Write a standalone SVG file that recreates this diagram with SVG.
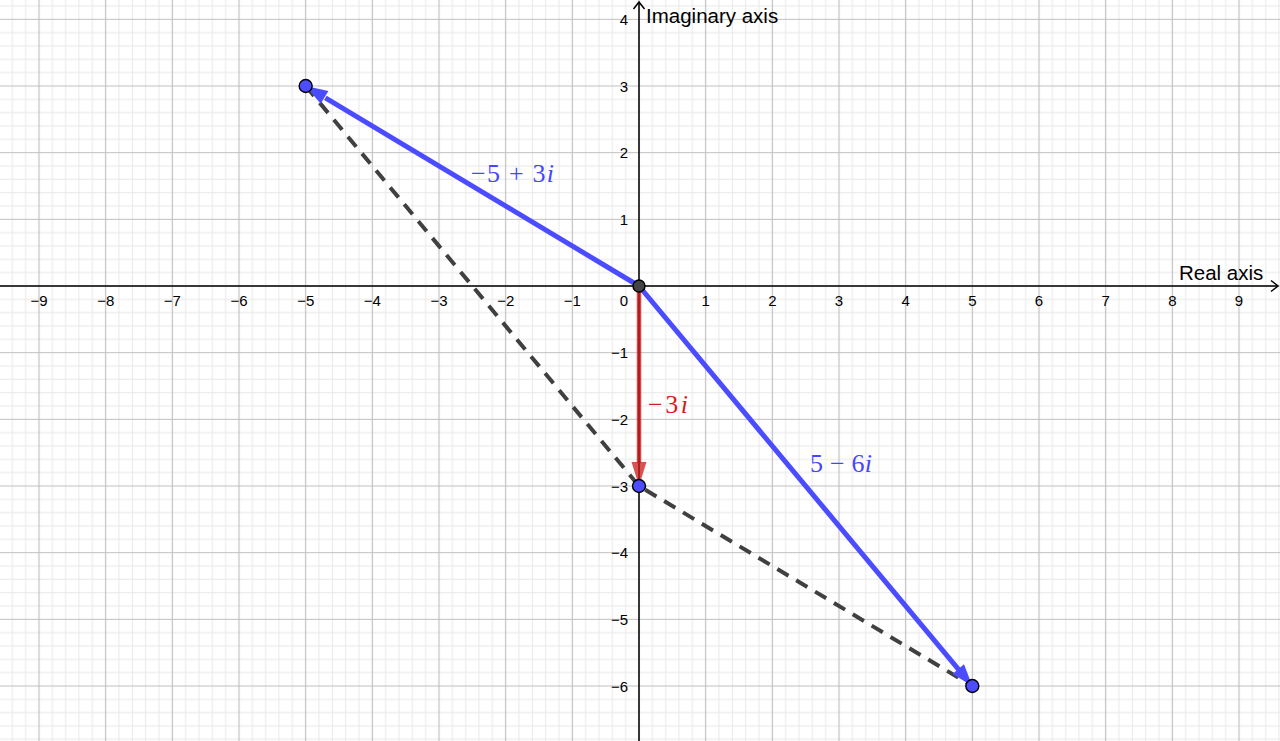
<svg xmlns="http://www.w3.org/2000/svg" width="1280" height="741" viewBox="0 0 1280 741">
  <style>
    .tick { font-family: "Liberation Sans", Arial, sans-serif; font-size: 15px; fill: #000; }
    .tx { text-anchor: middle; }
    .ty { text-anchor: end; }
    .axislabel { font-family: "Liberation Sans", Arial, sans-serif; font-size: 20.5px; fill: #000; }
    .math { font-family: "Liberation Serif", "Times New Roman", serif; font-size: 26px; }
    .blue { fill: #4646ff; }
    .red { fill: #d42020; }
    .vblue { stroke: #4b4bff; stroke-width: 5; fill: none; }
    .vred { stroke: #cc1a1a; stroke-opacity: 0.8; stroke-width: 4.5; fill: none; }
    .dash { stroke: #404040; stroke-width: 4; stroke-dasharray: 13 9; fill: none; }
    .pt { fill: #4d4dff; stroke: #000; stroke-width: 1.4; }
  </style>
  <defs>
    <pattern id="grid" patternUnits="userSpaceOnUse" x="5.667" y="-14" width="66.667" height="66.667">
      <path d="M6.667 0V66.667M20 0V66.667M46.667 0V66.667M60 0V66.667M0 6.667H66.667M0 20H66.667M0 46.667H66.667M0 60H66.667" stroke="#e8e8e8" stroke-width="1" fill="none"/>
      <path d="M33.333 0V66.667M0 33.333H66.667" stroke="#c0c0c0" stroke-width="1.2" fill="none"/>
    </pattern>
  </defs>
  <rect width="1280" height="741" fill="#ffffff"/>
  <rect id="gridlines" width="1280" height="741" fill="url(#grid)"/>

  <g id="axes" stroke="#000" stroke-width="1.5" fill="none">
    <line x1="0" y1="286" x2="1278" y2="286"/>
    <polyline points="1271,280.5 1278,286 1271,291.5"/>
    <line x1="639" y1="741" x2="639" y2="2"/>
    <polyline points="633.5,9 639,2 644.5,9"/>
  </g>

  <g id="axis-titles">
    <text class="axislabel" x="646" y="23">Imaginary axis</text>
    <text class="axislabel" x="1179" y="280">Real axis</text>
  </g>

  <g id="tick-labels" class="tick">
    <text class="tx" x="39" y="306">−9</text>
    <text class="tx" x="105.7" y="306">−8</text>
    <text class="tx" x="172.3" y="306">−7</text>
    <text class="tx" x="239" y="306">−6</text>
    <text class="tx" x="305.7" y="306">−5</text>
    <text class="tx" x="372.3" y="306">−4</text>
    <text class="tx" x="439" y="306">−3</text>
    <text class="tx" x="505.7" y="306">−2</text>
    <text class="tx" x="572.3" y="306">−1</text>
    <text class="ty" x="628" y="306">0</text>
    <text class="tx" x="705.7" y="306">1</text>
    <text class="tx" x="772.3" y="306">2</text>
    <text class="tx" x="839" y="306">3</text>
    <text class="tx" x="905.7" y="306">4</text>
    <text class="tx" x="972.3" y="306">5</text>
    <text class="tx" x="1039" y="306">6</text>
    <text class="tx" x="1105.7" y="306">7</text>
    <text class="tx" x="1172.3" y="306">8</text>
    <text class="tx" x="1239" y="306">9</text>
    <text class="ty" x="628" y="25">4</text>
    <text class="ty" x="628" y="91.5">3</text>
    <text class="ty" x="628" y="158.2">2</text>
    <text class="ty" x="628" y="224.8">1</text>
    <text class="ty" x="628" y="358.2">−1</text>
    <text class="ty" x="628" y="424.8">−2</text>
    <text class="ty" x="628" y="491.5">−3</text>
    <text class="ty" x="628" y="558.2">−4</text>
    <text class="ty" x="628" y="624.8">−5</text>
    <text class="ty" x="628" y="691.5">−6</text>
  </g>

  <g id="connectors">
    <polyline id="dashed-path" class="dash" points="305.67,86 639,486 972.33,686"/>
    <g id="vec-a">
      <line class="vblue" x1="639" y1="286" x2="325.4" y2="97.8"/>
      <polygon fill="#4b4bff" points="305.67,86 320.67,103.75 328.39,90.89"/>
    </g>
    <g id="vec-b">
      <line class="vblue" x1="639" y1="286" x2="958.9" y2="669.9"/>
      <polygon fill="#4b4bff" points="972.33,686 964.01,664.3 952.49,673.9"/>
    </g>
    <g id="vec-c">
      <line class="vred" x1="639" y1="286" x2="639" y2="463"/>
      <polygon fill="#cc1a1a" fill-opacity="0.75" points="639,486 631.5,462 646.5,462"/>
    </g>
  </g>

  <g id="vector-labels" class="math">
    <text id="label-a" class="blue" x="471" y="182" textLength="83" lengthAdjust="spacing">−5 + 3<tspan font-style="italic">i</tspan></text>
    <text id="label-b" class="blue" x="810" y="472" textLength="62" lengthAdjust="spacing">5 − 6<tspan font-style="italic">i</tspan></text>
    <text id="label-c" class="red" x="648" y="413" textLength="40" lengthAdjust="spacing">−3<tspan font-style="italic">i</tspan></text>
  </g>

  <g id="point-origin"><circle cx="639" cy="286" r="6" fill="#444" stroke="#000" stroke-width="1.4"/></g>
  <g id="point-a"><circle class="pt" cx="305.67" cy="86" r="6.5"/></g>
  <g id="point-c"><circle class="pt" cx="639" cy="486" r="6.5"/></g>
  <g id="point-b"><circle class="pt" cx="972.33" cy="686" r="6.5"/></g>
</svg>
